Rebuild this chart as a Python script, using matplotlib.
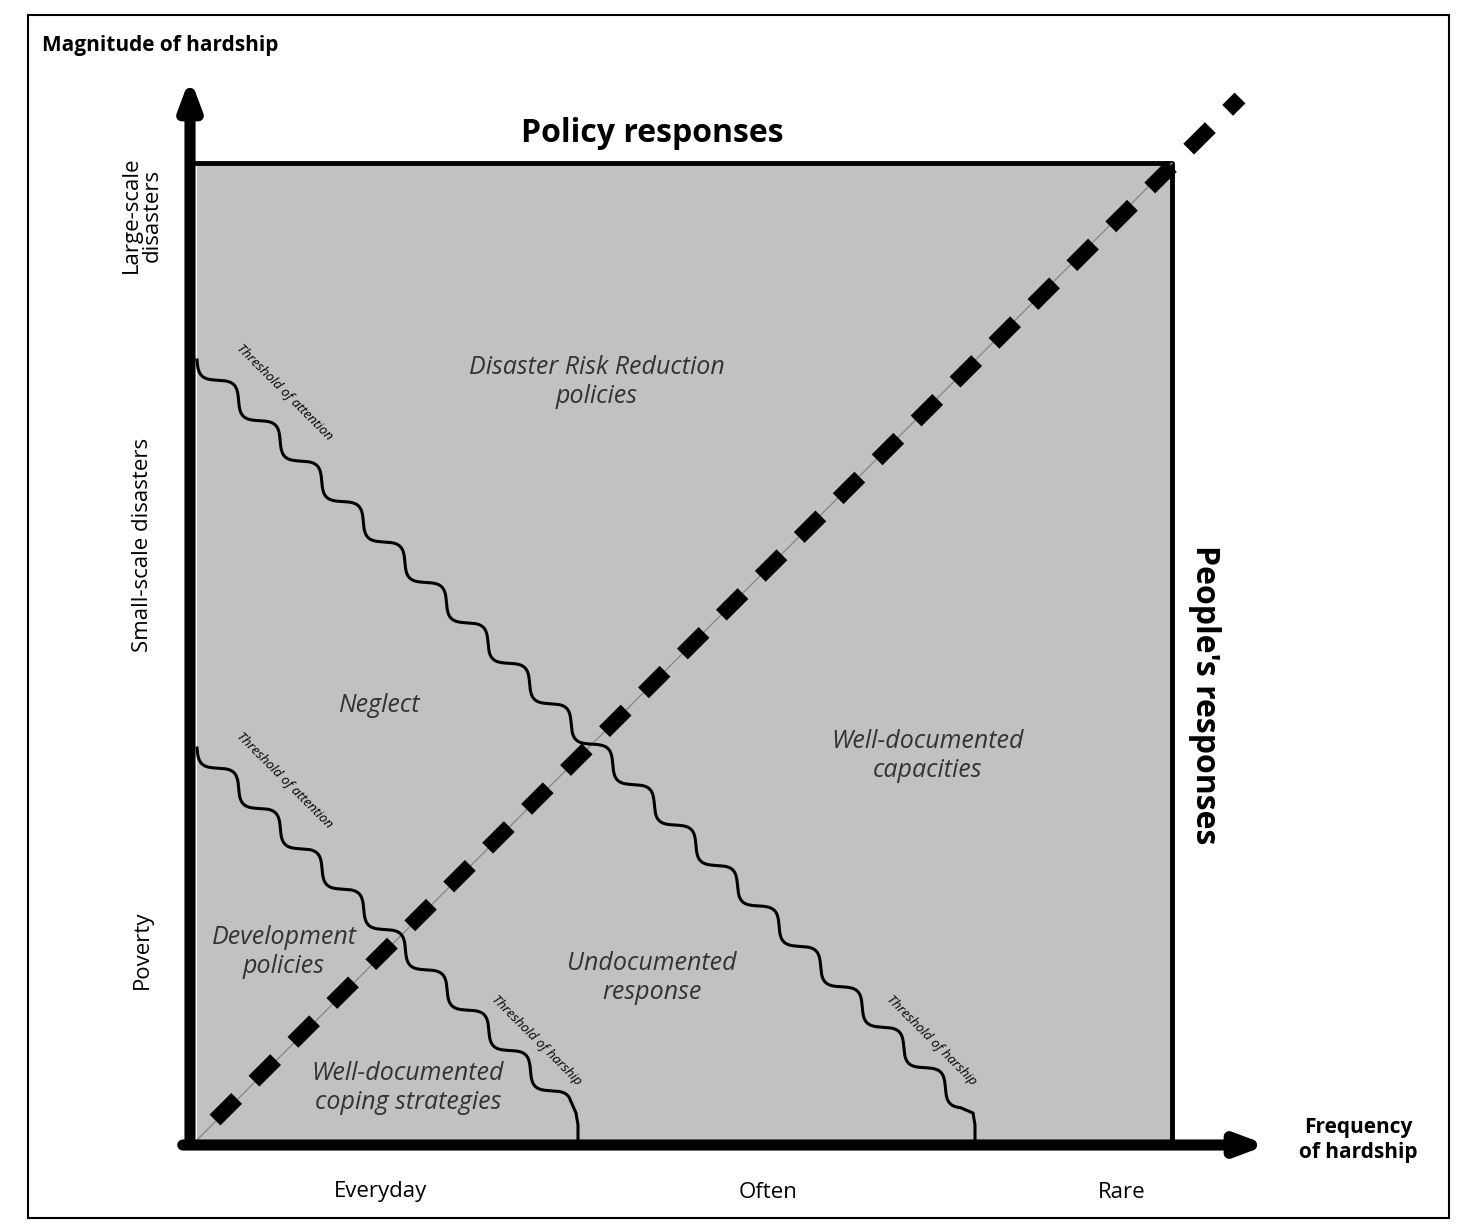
import numpy as np
import matplotlib
matplotlib.use("Agg")
import matplotlib.pyplot as plt
from matplotlib.patches import Rectangle

plt.rcParams['font.family'] = ['Open Sans', 'DejaVu Sans']

# ---- data (diagram in pixel coordinates) ----
x_ticks = ["Everyday", "Often", "Rare"]
x_tick_pos = [380, 768, 1122]
y_ticks = ["Large-scale\ndisasters", "Small-scale disasters", "Poverty"]
y_tick_pos = [215, 545, 950]
region_labels = ["Disaster Risk Reduction\npolicies", "Neglect", "Well-documented\ncapacities",
                 "Development\npolicies", "Undocumented\nresponse", "Well-documented\ncoping strategies"]
region_pos = [(597, 382), (380, 705), (928, 756), (284, 952), (652, 978), (408, 1088)]
threshold_labels = ["Threshold of attention", "Threshold of attention",
                    "Threshold of harship", "Threshold of harship"]
threshold_pos = [(285, 392), (285, 780), (537, 1040), (932, 1040)]
wave1 = [(197, 360), (963, 1105), (975, 1140)]
wave2 = [(197, 748), (566, 1105), (578, 1140)]

fig = plt.figure(figsize=(14.61, 12.32), dpi=100)
ax = fig.add_axes([0, 0, 1, 1])
ax.set_xlim(0, 1461); ax.set_ylim(1232, 0); ax.axis('off')

ax.add_patch(Rectangle((28, 15), 1421, 1203, fill=False, lw=1.5, ec='black'))
ax.add_patch(Rectangle((197, 163), 975, 977, fc='#c0c1c3', ec='none'))
ax.plot([197, 1172, 1172], [163, 163, 1140], color='black', lw=3.5)

# diagonal
ax.plot([197, 1172], [1140, 163], color='#8a8a8a', lw=1)
ax.plot([215, 1240], [1120, 98], color='black', lw=11, dashes=(2.0, 1.6), solid_capstyle='butt')

def wavy(pts, per=58, amp=8):
    (x0, y0), (x1, y1), (x2, y2) = pts
    L = np.hypot(x1 - x0, y1 - y0)
    t = np.linspace(0, L, 2000)
    ux, uy = (x1 - x0) / L, (y1 - y0) / L
    off = amp * np.sin(2 * np.pi * t / per)
    xs = x0 + ux * t - uy * off
    ys = y0 + uy * t + ux * off
    xs = np.append(xs, [x2 - 2, x2, x2]); ys = np.append(ys, [y1 + 8, y1 + 20, y2])
    ax.plot(xs, ys, color='black', lw=2.2)

wavy(wave1); wavy(wave2)

# axes arrows
ax.annotate('', xy=(190, 75), xytext=(190, 1146),
            arrowprops=dict(arrowstyle='-|>,head_width=0.6,head_length=1.6', lw=8, color='black'))
ax.annotate('', xy=(1270, 1145), xytext=(180, 1145),
            arrowprops=dict(arrowstyle='-|>,head_width=0.6,head_length=1.6', lw=8, color='black'))

ax.text(42, 45, "Magnitude of hardship", fontsize=15, fontweight='bold', va='center')
ax.text(1358, 1140, "Frequency\nof hardship", fontsize=15, fontweight='bold', ha='center', va='center', linespacing=1.2)
ax.text(652, 133, "Policy responses", fontsize=23, fontweight='bold', ha='center', va='center')
ax.text(1205, 695, "People's responses", fontsize=23, fontweight='bold', ha='center', va='center', rotation=-90)

for lab, x in zip(x_ticks, x_tick_pos):
    ax.text(x, 1192, lab, fontsize=16, ha='center', va='center')
for lab, y in zip(y_ticks, y_tick_pos):
    ax.text(142, y, lab, fontsize=16, ha='center', va='center', rotation=90, linespacing=1.0)
for lab, (x, y) in zip(region_labels, region_pos):
    ax.text(x, y, lab, fontsize=18, style='italic', ha='center', va='center', color='#333333', linespacing=1.25)
for lab, (x, y) in zip(threshold_labels, threshold_pos):
    ax.text(x, y, lab, fontsize=9.5, style='italic', ha='center', va='center', rotation=-45)

fig.savefig("out.png", dpi=100)
